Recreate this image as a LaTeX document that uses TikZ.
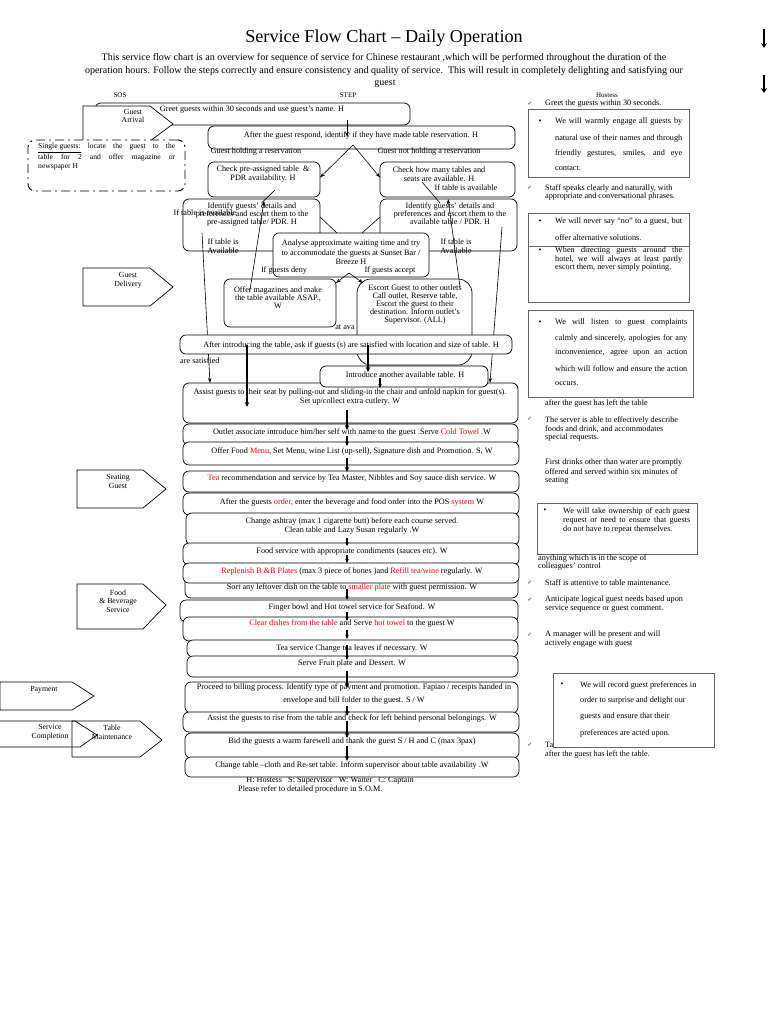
\documentclass[tikz,border=0pt]{standalone}
\usepackage{fontspec}
\setmainfont{Liberation Serif}
\newfontfamily\symfont{DejaVu Sans}
\usetikzlibrary{arrows.meta,calc}
\newcommand\flowbox[6][]{%
  \pgfmathsetmacro\fbw{#5-#3}%
  \pgfmathsetmacro\fbh{#6-#4}%
  \pgfmathsetmacro\fbx{(#3+#5)/2}%
  \pgfmathsetmacro\fby{(#4+#6)/2}%
  \node[box,#1,minimum width=\fbw pt,minimum height=\fbh pt] (#2) at (\fbx,\fby) {};%
}
\tikzset{
  box/.style={draw=black, line width=0.7pt, rounded corners=6pt, fill=white, inner sep=0pt, outer sep=0pt},
  gbox/.style={draw=black!60, line width=0.8pt, sharp corners},
  dashbox/.style={dash pattern=on 9pt off 4pt on 2pt off 4pt, line width=0.9pt, rounded corners=7pt},
  txt/.style={inner sep=0pt, font=\fontsize{8.2}{8.6}\selectfont, align=center},
  ltxt/.style={txt, anchor=west, align=left},
  ptxt/.style={txt, font=\fontsize{7.8}{8.6}\selectfont},
  rtxt/.style={inner sep=0pt, font=\fontsize{8.2}{9}\selectfont, anchor=west},
  hdr/.style={inner sep=0pt, font=\fontsize{7}{7}\selectfont},
  chk/.style={inner sep=0pt, font=\symfont\fontsize{5.5}{6}\selectfont},
  bul/.style={inner sep=0pt, font=\fontsize{8}{8}\selectfont},
  thk/.style={line width=1.7pt, -{Stealth[length=5pt,width=4.5pt]}},
  mid/.style={line width=1.1pt, -{Stealth[length=4pt,width=3.5pt]}},
  thn/.style={line width=0.6pt, -{Stealth[length=5pt,width=3.5pt]}},
  pln/.style={line width=0.6pt},
  pent/.style={draw=black, line width=0.7pt, fill=white},
  opent/.style={draw=black, line width=0.7pt},
}
\begin{document}
\begin{tikzpicture}[x=1pt,y=-1pt]
\useasboundingbox (0,0) rectangle (768,1024);
\fill[white] (0,0) rectangle (768,1024);
\coordinate (ax) at (347,0);

% ---------- heading ----------
\node[inner sep=0pt, font=\fontsize{18.2}{22}\selectfont] (title) at (384,38) {Service Flow Chart – Daily Operation};
\node[inner sep=0pt, font=\fontsize{10}{12}\selectfont] (p1) at (384,58) {This service flow chart is an overview for sequence of service for Chinese restaurant ,which will be performed throughout the duration of the};
\node[inner sep=0pt, font=\fontsize{10}{12}\selectfont] (p2) at (384,71) {operation hours. Follow the steps correctly and ensure consistency and quality of service.\ \ This will result in completely delighting and satisfying our};
\node[inner sep=0pt, font=\fontsize{10}{12}\selectfont] (p3) at (385,84) {guest};
\coordinate (e1a) at (764,29); \coordinate (e1b) at (764,48);
\coordinate (e2a) at (764,75); \coordinate (e2b) at (764,93);
\draw[line width=2.4pt, -{Stealth[length=5pt,width=6pt]}] (e1a) -- (e1b);
\draw[line width=2.4pt, -{Stealth[length=5pt,width=6pt]}] (e2a) -- (e2b);
\node[hdr] (hsos) at (120,95) {SOS};
\node[hdr] (hstep) at (348,95) {STEP};
\node[hdr] (hhost) at (607,95) {Hostess};

% ---------- left column ----------
\flowbox{b1}{95}{103}{410}{125}
\node[txt] (t1) at (252,110) {Greet guests within 30 seconds and use guest's name. H};
\draw[pent] (83,106) -- (150,106) -- (173,124) -- (150,141) -- (83,141) -- cycle;
\node[ptxt] (ga) at (133,116) {Guest\\Arrival};
\flowbox[dashbox]{sg}{28}{140}{185}{191}
\node[ltxt, font=\fontsize{7.6}{8}\selectfont] (sg1) at (38,148) {\makebox[137pt][s]{\underline{Single guests:} locate the guest to the}};
\node[ltxt, font=\fontsize{7.6}{8}\selectfont] (sg2) at (38,158) {\makebox[137pt][s]{table for 2 and offer magazine or}};
\node[ltxt, font=\fontsize{7.6}{8}\selectfont] (sg3) at (38,167) {newspaper H};

\draw[pent] (83,268) -- (150,268) -- (173,287) -- (150,306) -- (83,306) -- cycle;
\node[ptxt] (gd) at (128,280) {Guest\\Delivery};
\draw[pent] (77,470) -- (143,470) -- (166,489) -- (143,508) -- (77,508) -- cycle;
\node[ptxt] (sgu) at (118,481.5) {Seating\\Guest};
\draw[pent] (77,584) -- (143,584) -- (166,605) -- (143,629) -- (77,629) -- cycle;
\node[ptxt] (fb) at (118,601) {Food\\\& Beverage\\Service};
\draw[pent] (0,682) -- (72,682) -- (94,696) -- (72,710) -- (0,710) -- cycle;
\node[ptxt] (pay) at (44,690) {Payment};
\draw[opent] (0,721) -- (75,721) -- (97,735) -- (80,747) -- (0,747);
\draw[opent] (72,721) -- (140,721) -- (162,740) -- (140,757) -- (72,757) -- cycle;
\node[ptxt] (sc) at (50,732) {Service\\Completion};
\node[ptxt] (tm) at (112,732.5) {Table\\Maintenance};

% ---------- flow: reservation ----------
\flowbox{b2}{208}{126}{515}{149}
\node[txt] (t2) at (361,135) {After the guest respond, identify if they have made table reservation. H};
\node[txt] (lh1) at (256,152) {Guest holding a reservation};
\node[txt] (lh2) at (429,152) {Guest not holding a reservation};

\flowbox{b3}{208}{162}{320}{197}
\node[txt] (t3) at (263,174) {Check pre-assigned table\ \ \&\\PDR availability. H};
\flowbox{b4}{380}{162}{515}{197}
\node[txt] (t4) at (439,174) {Check how many tables and\\seats are available. H};
\node[txt] (ia1) at (466,188) {If table is available};

\flowbox{b5}{183}{199}{320}{251}
\node[txt, font=\fontsize{8.2}{8}\selectfont] (t5) at (252,214) {Identify guests' details and\\preferences and escort them to the\\pre-assigned table/ PDR. H};
\flowbox{b6}{380}{199}{517}{251}
\node[txt, font=\fontsize{8.2}{8}\selectfont] (t6) at (450,214) {Identify guests' details and\\preferences and escort them to the\\available table / PDR. H};
\node[txt] (ia2) at (205,213) {If table is available};
\node[txt] (ia3) at (223,246) {If table is\\Available};
\node[txt] (ia4) at (456,246) {If table is\\Available};

\flowbox{b7}{273}{233}{429}{277}
\node[txt, font=\fontsize{8.2}{9.5}\selectfont] (t7) at (351,252.5) {Analyse approximate waiting time and try\\to accommodate the guests at Sunset Bar /\\Breeze H};
\node[txt] (gdeny) at (284,270) {If guests deny};
\node[txt] (gacc) at (390,270) {If guests accept};

\flowbox{b8}{224}{279}{336}{327}
\node[txt, font=\fontsize{8.2}{8}\selectfont] (t8) at (278,297.5) {Offer magazines and make\\the table available ASAP.,\\W};
\node[txt] (atava) at (345,327) {at ava};
\flowbox[rounded corners=14pt]{b9}{357}{279}{472}{365}
\node[txt, font=\fontsize{8.2}{7.9}\selectfont] (t9) at (415,304.5) {Escort Guest to other outlets\\Call outlet, Reserve table,\\Escort the guest to their\\destination. Inform outlet's\\Supervisor. (ALL)};

\flowbox{b13}{183}{383}{518}{423}
\node[txt] (t13) at (350,397) {Assist guests to their seat by pulling-out and sliding-in the chair and unfold napkin for guest(s).\\Set up/collect extra cutlery. W};

% long thin lines (partly hidden by later boxes)
\draw[thn] ($(b5.south west)+(19,-18)$) -- ($(b13.north west)+(27,0)$);
\draw[thn] ($(b6.south east)+(-15,-24)$) -- ($(b13.north east)+(-28,0)$);

\flowbox{b10}{180}{335}{512}{354}
\node[txt] (t10) at (351,345) {After introducing the table, ask if guests (s) are satisfied with location and size of table. H};
\node[ltxt] (sat) at (180,361) {are satisfied};
\flowbox{b12}{320}{366}{488}{387}
\node[txt] (t12) at (405,375) {Introduce another available table. H};

% ---------- main service sequence ----------
\flowbox{b14}{183}{424}{518}{445}
\node[txt] (t14) at (352,432) {Outlet associate introduce him/her self with name to the guest .Serve {\color{red}Cold Towel} .W};
\flowbox{b15}{183}{442}{519}{465}
\node[txt] (t15) at (352,451) {Offer Food {\color{red}Menu}, Set Menu, wine List (up-sell), Signature dish and Promotion. S, W};
\flowbox{b16}{183}{471}{519}{492}
\node[txt] (t16) at (352,479) {{\color{red}Tea} recommendation and service by Tea Master, Nibbles and Soy sauce dish service. W};
\flowbox{b17}{183}{493}{519}{515}
\node[txt] (t17) at (352,502) {After the guests {\color{red}order,} enter the beverage and food order into the POS {\color{red}system} W};
\flowbox{b18}{186}{513}{519}{545}
\node[txt] (t18) at (352,526) {Change ashtray (max 1 cigarette butt) before each course served.\\Clean table and Lazy Susan regularly .W};
\flowbox{b19}{183}{543}{519}{565}
\node[txt] (t19) at (352,552) {Food service with appropriate condiments (sauces etc). W};
\flowbox{b21}{185}{568}{518}{598}
\node[txt] (t21) at (352,587) {Sort any leftover dish on the table to {\color{red}smaller plate} with guest permission. W};
\flowbox{b20}{183}{563}{519}{583}
\node[txt] (t20) at (352,571) {{\color{red}Replenish B \&B Plates} (max 3 piece of bones )and {\color{red}Refill tea/wine} regularly. W};
\flowbox{b22}{180}{600}{518}{622}
\node[txt] (t22) at (352,607) {Finger bowl and Hot towel service for Seafood. W};
\flowbox{b23}{183}{617}{518}{641}
\node[txt] (t23) at (352,623) {{\color{red}Clear dishes from the table} and Serve {\color{red}hot towel} to the guest W};
\flowbox{b24}{187}{640}{518}{657}
\node[txt] (t24) at (352,648) {Tea service Change tea leaves if necessary. W};
\flowbox{b25}{187}{656}{518}{677}
\node[txt] (t25) at (352,664) {Serve Fruit plate and Dessert. W};
\flowbox{b26}{185}{682}{518}{713}
\node[txt, font=\fontsize{8.2}{13.4}\selectfont] (t26) at (354,694) {Proceed to billing process. Identify type of payment and promotion. Fapiao / receipts handed in\\envelope and bill folder to the guest. S / W};
\flowbox{b27}{183}{712}{519}{732}
\node[txt] (t27) at (352,718) {Assist the guests to rise from the table and check for left behind personal belongings. W};
\flowbox{b28}{185}{733}{519}{758}
\node[txt] (t28) at (352,741) {Bid the guests a warm farewell and thank the guest S / H and C (max 3pax)};
\node[txt] (leg) at (330,781) {H: Hostess\ \ \ S: Supervisor\ \ \ W: Waiter\ \ \ C: Captain};
\flowbox{b29}{185}{757}{519}{777}
\node[txt] (t29) at (352,765) {Change table –cloth and Re-set table. Inform supervisor about table availability .W};
\node[ltxt] (som) at (238,789) {Please refer to detailed procedure in S.O.M.};

% ---------- connectors ----------
\draw[thn] ($(b1.south -| ax)+(0,-5)$) -- ($(b2.north -| ax)+(0,11)$);
\coordinate (ap1) at ($(b2.south)+(-8.5,-4)$);
\draw[thn] (ap1) -- ($(b3.east)+(0,-2)$);
\draw[thn] (ap1) -- ($(b4.west)+(0,-2)$);
\draw[pln] ($(b3.south)+(11,-7)$) -- ($(b5.north)+(10,4)$);
\draw[pln] ($(b4.south)+(-25.5,-15)$) -- ($(b6.north)+(-8.5,4)$);
\draw[pln] ($(b5.east)+(0,-8)$) -- ($(b7.north)+(-14,0)$);
\draw[pln] ($(b6.west)+(0,-8)$) -- ($(b7.north)+(11,0)$);
\coordinate (ap2) at ($(b7.south)+(-2,-4)$);
\draw[thn] (ap2) -- ($(b8.north east)+(0,4)$);
\draw[thn] (ap2) -- ($(b9.north west)+(6,4)$);
\draw[thn] ($(b8.north west)+(26,11)$) -- ($(b5.north)+(12.5,2)$);
\draw[thn] ($(b9.north east)+(-12,8)$) -- ($(b6.north)+(-0.5,0)$);

\draw[thk] ($(b10.north west)+(67,10)$) -- ($(b13.north west)+(64,24)$);
\draw[thk] ($(b10.north west)+(188,10)$) -- ($(b12.north west)+(48,6)$);
\draw[mid] ($(b12.south west)+(60,-9)$) -- ($(b13.north west)+(197,5)$);
\draw[thk] ($(b13.south -| ax)+(0,-13)$) -- ($(b14.north -| ax)+(0,6)$);
\draw[mid] ($(b14.south -| ax)+(0,-9)$) -- ($(b15.north -| ax)+(0,4)$);
\draw[thk] ($(b15.south -| ax)+(0,-7)$) -- ($(b16.north -| ax)+(0,1)$);
\draw[mid] ($(b18.south -| ax)+(0,-7)$) -- ($(b19.north -| ax)+(0,3)$);
\draw[mid] ($(b19.south -| ax)+(0,-10)$) -- ($(b20.north -| ax)+(0,0)$);
\draw[mid] ($(b21.south -| ax)+(0,-9)$) -- ($(b22.north -| ax)+(0,0)$);
\draw[mid] ($(b22.south -| ax)+(0,-10)$) -- ($(b23.north -| ax)+(0,4)$);
\draw[mid] ($(b23.south -| ax)+(0,-11)$) -- ($(b24.north -| ax)+(0,-1)$);
\draw[mid] ($(b24.south -| ax)+(0,-12)$) -- ($(b25.north -| ax)+(0,4)$);
\draw[thk] ($(b25.south -| ax)+(0,-6)$) -- ($(b26.north -| ax)+(0,6)$);
\draw[thk] ($(b26.south -| ax)+(0,-7)$) -- ($(b27.north -| ax)+(0,4)$);
\draw[thk] ($(b27.south -| ax)+(0,-11)$) -- ($(b28.north -| ax)+(0,5)$);
\draw[thk] ($(b28.south -| ax)+(0,-12)$) -- ($(b29.north -| ax)+(0,4)$);

% ---------- right column ----------
\node[chk] (c0) at (530,104) {✓};
\node[rtxt] (r0) at (545,104) {Greet the guests within 30 seconds.};
\flowbox[gbox]{rb1}{528}{109}{689}{177}
\node[bul] (u1) at (540,122) {•};
\node[rtxt] (r1a) at (555,122) {\makebox[127pt][s]{We will warmly engage all guests by}};
\node[rtxt] (r1b) at (555,138) {\makebox[127pt][s]{natural use of their names and through}};
\node[rtxt] (r1c) at (555,153) {\makebox[127pt][s]{friendly gestures, smiles, and eye}};
\node[rtxt] (r1d) at (555,168) {contact.};

\node[chk] (c1) at (530,188) {✓};
\node[rtxt] (r2a) at (545,188) {Staff speaks clearly and naturally, with};
\node[rtxt] (r2b) at (545,197) {appropriate and conversational phrases.};

\flowbox[gbox]{rb2}{528}{213}{689}{302}
\draw[draw=black!60, line width=0.8pt] ([yshift=-33pt]rb2.north west) -- ([yshift=-33pt]rb2.north east);
\node[bul] (u2) at (540,222) {•};
\node[rtxt] (r3a) at (555,222) {\makebox[127pt][s]{We will never say ``no'' to a guest, but}};
\node[rtxt] (r3b) at (555,238) {offer alternative solutions.};
\node[bul] (u3) at (540,251) {•};
\node[rtxt] (r4a) at (555,251) {\makebox[127pt][s]{When directing guests around the}};
\node[rtxt] (r4b) at (555,260) {\makebox[127pt][s]{hotel, we will always at least partly}};
\node[rtxt] (r4c) at (555,268) {escort them, never simply pointing.};

\flowbox[gbox]{rb3}{528}{310}{693}{397}
\node[bul] (u4) at (540,323) {•};
\node[rtxt] (r5a) at (555,323) {\makebox[132pt][s]{We will listen to guest complaints}};
\node[rtxt] (r5b) at (555,338) {\makebox[132pt][s]{calmly and sincerely, apologies for any}};
\node[rtxt] (r5c) at (555,353) {\makebox[132pt][s]{inconvenience, agree upon an action}};
\node[rtxt] (r5d) at (555,369) {\makebox[132pt][s]{which will follow and ensure the action}};
\node[rtxt] (r5e) at (555,384) {occurs.};

\node[rtxt] (r6) at (545,403) {after the guest has left the table};
\node[chk] (c3) at (530,419) {✓};
\node[rtxt] (r7a) at (545,420) {The server is able to effectively describe};
\node[rtxt] (r7b) at (545,429) {foods and drink, and accommodates};
\node[rtxt] (r7c) at (545,438) {special requests.};
\node[rtxt] (r8a) at (545,463) {First drinks other than water are promptly};
\node[rtxt] (r8b) at (545,472) {offered and served within six minutes of};
\node[rtxt] (r8c) at (545,481) {seating};

\flowbox[gbox]{rb4}{537}{503}{697}{554}
\node[bul] (u5) at (545,511) {•};
\node[rtxt] (r9a) at (563,511) {\makebox[127pt][s]{We will take ownership of each guest}};
\node[rtxt] (r9b) at (563,521) {\makebox[127pt][s]{request or need to ensure that guests}};
\node[rtxt] (r9c) at (563,530) {do not have to repeat themselves.};
\node[rtxt] (r10a) at (538,558) {anything which is in the scope of};
\node[rtxt] (r10b) at (538,567) {colleagues' control};

\node[chk] (c6) at (530,583) {✓};
\node[rtxt] (r11) at (545,583) {Staff is attentive to table maintenance.};
\node[chk] (c7) at (530,600) {✓};
\node[rtxt] (r12a) at (545,600) {Anticipate logical guest needs based upon};
\node[rtxt] (r12b) at (545,609) {service sequence or guest comment.};
\node[chk] (c8) at (530,635) {✓};
\node[rtxt] (r13a) at (545,635) {A manager will be present and will};
\node[rtxt] (r13b) at (545,644) {actively engage with guest};

\node[chk] (c9) at (530,745) {✓};
\node[rtxt] (r14a) at (545,745) {Ta};
\node[rtxt] (r14b) at (545,754) {after the guest has left the table.};
\flowbox[gbox]{rb5}{553}{673}{714}{747}
\node[bul] (u6) at (562,685) {•};
\node[rtxt] (r15a) at (580,685) {We will record guest preferences in};
\node[rtxt] (r15b) at (580,701) {order to surprise and delight our};
\node[rtxt] (r15c) at (580,717) {guests and ensure that their};
\node[rtxt] (r15d) at (580,733) {preferences are acted upon.};
\end{tikzpicture}
\end{document}
